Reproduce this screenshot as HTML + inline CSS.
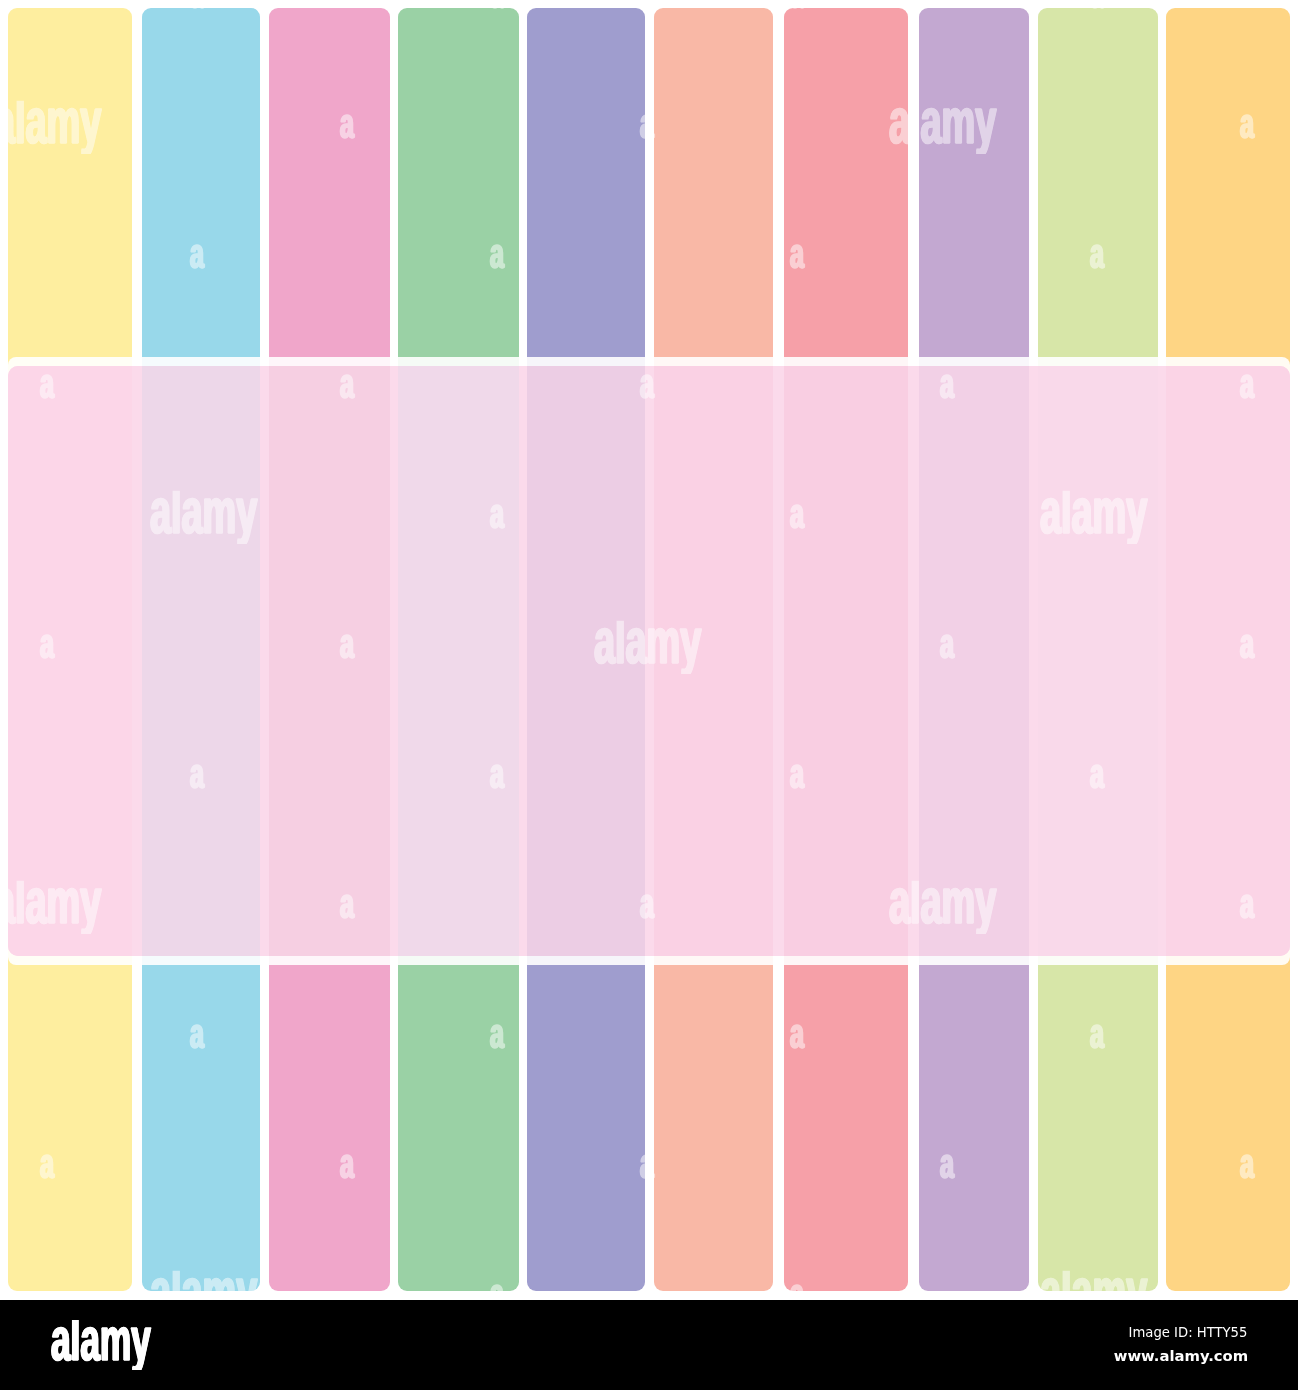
<!DOCTYPE html>
<html lang="en"><head><meta charset="utf-8"><title>alamy - HTTY55</title>
<style>
html,body{margin:0;padding:0;background:#fff;}
body{width:1298px;height:1390px;position:relative;overflow:hidden;font-family:"Liberation Sans",sans-serif;}
.art{position:absolute;left:0;top:0;width:1298px;height:1300px;overflow:hidden;background:#fff;}
.s{position:absolute;top:8.2px;height:1282.8px;border-radius:9px;}
.wb{position:absolute;left:8.3px;width:1282.2px;top:356.8px;height:608.4px;border-radius:8px;background:rgba(255,255,255,.9);}
.pp{position:absolute;left:8.3px;width:1282.2px;top:365.6px;height:590.6px;border-radius:10px;background:#fbdaeb;overflow:hidden;}
.pp i{position:absolute;top:0;height:600px;display:block;}
.wm{position:absolute;left:0;top:0;width:1298px;height:1300px;overflow:hidden;color:#fff;opacity:.5;font-weight:bold;-webkit-text-stroke:1.6px #fff;text-shadow:1.6px 0 0 #fff,-1.6px 0 0 #fff;}
.wm span{position:absolute;white-space:nowrap;line-height:1;transform-origin:0 0;}
.wm .a{font-size:45.5px;transform:scale(.55,.92);}
.wm .b{font-size:59.6px;transform:scale(0.635,1.078);clip-path:inset(10.8px -6px -0.7px -6px);}
.bar{position:absolute;left:0;top:1300px;width:1298px;height:90px;background:#000;color:#fff;}
.lw{position:absolute;left:40px;top:1319.8px;width:130px;height:50px;overflow:hidden;}
.logo{position:absolute;left:10.5px;top:-10.8px;font-size:56px;font-weight:bold;line-height:1;color:#fff;transform:scale(0.628,1.078);transform-origin:0 0;white-space:nowrap;-webkit-text-stroke:1.5px #fff;text-shadow:1.5px 0 0 #fff,-1.5px 0 0 #fff;}
.id{position:absolute;right:50.6px;top:1324.9px;font-family:"DejaVu Sans","Liberation Sans",sans-serif;font-size:13.2px;line-height:16px;color:#fff;white-space:nowrap;}
.url{position:absolute;right:49.8px;top:1346.7px;font-family:"DejaVu Sans","Liberation Sans",sans-serif;font-size:14.8px;font-weight:bold;line-height:18px;color:#fff;white-space:nowrap;}
</style></head><body>
<div class="art">
<div class="s" style="left:8.4px;width:124.1px;background:#feee9f"></div>
<div class="s" style="left:141.7px;width:118.8px;background:#98d8ea"></div>
<div class="s" style="left:269.2px;width:120.4px;background:#f0a6ca"></div>
<div class="s" style="left:398.4px;width:120.3px;background:#9ad1a5"></div>
<div class="s" style="left:527.3px;width:117.9px;background:#9f9dce"></div>
<div class="s" style="left:653.9px;width:118.8px;background:#f9b8a6"></div>
<div class="s" style="left:783.9px;width:123.7px;background:#f6a0a8"></div>
<div class="s" style="left:919.0px;width:109.7px;background:#c3a8d1"></div>
<div class="s" style="left:1037.8px;width:119.8px;background:#d7e6a8"></div>
<div class="s" style="left:1166.3px;width:124.1px;background:#fed584"></div>
<div class="wb"></div>
<div class="pp"><i style="left:0.1px;width:124.1px;background:#fcd6e8"></i><i style="left:133.4px;width:118.8px;background:#edd7e9"></i><i style="left:260.9px;width:120.4px;background:#f6cfe2"></i><i style="left:390.1px;width:120.3px;background:#f0d9ea"></i><i style="left:519.0px;width:117.9px;background:#eccde4"></i><i style="left:645.6px;width:118.8px;background:#fad1e4"></i><i style="left:775.6px;width:123.7px;background:#f9cee2"></i><i style="left:910.7px;width:109.7px;background:#f2d0e6"></i><i style="left:1029.5px;width:119.8px;background:#f9d9ea"></i><i style="left:1158.0px;width:124.1px;background:#fbd4e6"></i></div>
<div class="wm">
<span class="a" style="left:190.3px;top:-26.6px">a</span>
<span class="a" style="left:490.3px;top:-26.6px">a</span>
<span class="a" style="left:790.3px;top:-26.6px">a</span>
<span class="a" style="left:1090.3px;top:-26.6px">a</span>
<span class="a" style="left:340.3px;top:103.4px">a</span>
<span class="a" style="left:640.3px;top:103.4px">a</span>
<span class="a" style="left:1240.3px;top:103.4px">a</span>
<span class="a" style="left:190.3px;top:233.4px">a</span>
<span class="a" style="left:490.3px;top:233.4px">a</span>
<span class="a" style="left:790.3px;top:233.4px">a</span>
<span class="a" style="left:1090.3px;top:233.4px">a</span>
<span class="a" style="left:40.3px;top:363.4px">a</span>
<span class="a" style="left:340.3px;top:363.4px">a</span>
<span class="a" style="left:640.3px;top:363.4px">a</span>
<span class="a" style="left:940.3px;top:363.4px">a</span>
<span class="a" style="left:1240.3px;top:363.4px">a</span>
<span class="a" style="left:490.3px;top:493.4px">a</span>
<span class="a" style="left:790.3px;top:493.4px">a</span>
<span class="a" style="left:40.3px;top:623.4px">a</span>
<span class="a" style="left:340.3px;top:623.4px">a</span>
<span class="a" style="left:940.3px;top:623.4px">a</span>
<span class="a" style="left:1240.3px;top:623.4px">a</span>
<span class="a" style="left:190.3px;top:753.4px">a</span>
<span class="a" style="left:490.3px;top:753.4px">a</span>
<span class="a" style="left:790.3px;top:753.4px">a</span>
<span class="a" style="left:1090.3px;top:753.4px">a</span>
<span class="a" style="left:340.3px;top:883.4px">a</span>
<span class="a" style="left:640.3px;top:883.4px">a</span>
<span class="a" style="left:1240.3px;top:883.4px">a</span>
<span class="a" style="left:190.3px;top:1013.4px">a</span>
<span class="a" style="left:490.3px;top:1013.4px">a</span>
<span class="a" style="left:790.3px;top:1013.4px">a</span>
<span class="a" style="left:1090.3px;top:1013.4px">a</span>
<span class="a" style="left:40.3px;top:1143.4px">a</span>
<span class="a" style="left:340.3px;top:1143.4px">a</span>
<span class="a" style="left:640.3px;top:1143.4px">a</span>
<span class="a" style="left:940.3px;top:1143.4px">a</span>
<span class="a" style="left:1240.3px;top:1143.4px">a</span>
<span class="a" style="left:490.3px;top:1273.4px">a</span>
<span class="a" style="left:790.3px;top:1273.4px">a</span>
<span class="b" style="left:-5.8px;top:88.7px">alamy</span>
<span class="b" style="left:888.7px;top:88.7px">alamy</span>
<span class="b" style="left:150.0px;top:479.2px">alamy</span>
<span class="b" style="left:1040.2px;top:479.2px">alamy</span>
<span class="b" style="left:593.7px;top:608.7px">alamy</span>
<span class="b" style="left:-5.8px;top:868.7px">alamy</span>
<span class="b" style="left:888.7px;top:868.7px">alamy</span>
<span class="b" style="left:150.0px;top:1259.2px">alamy</span>
<span class="b" style="left:1040.2px;top:1259.2px">alamy</span>
</div>
</div>
<div class="bar"></div>
<div class="lw"><div class="logo">alamy</div></div>
<div class="id">Image ID: HTTY55</div>
<div class="url">www.alamy.com</div>
</body></html>
